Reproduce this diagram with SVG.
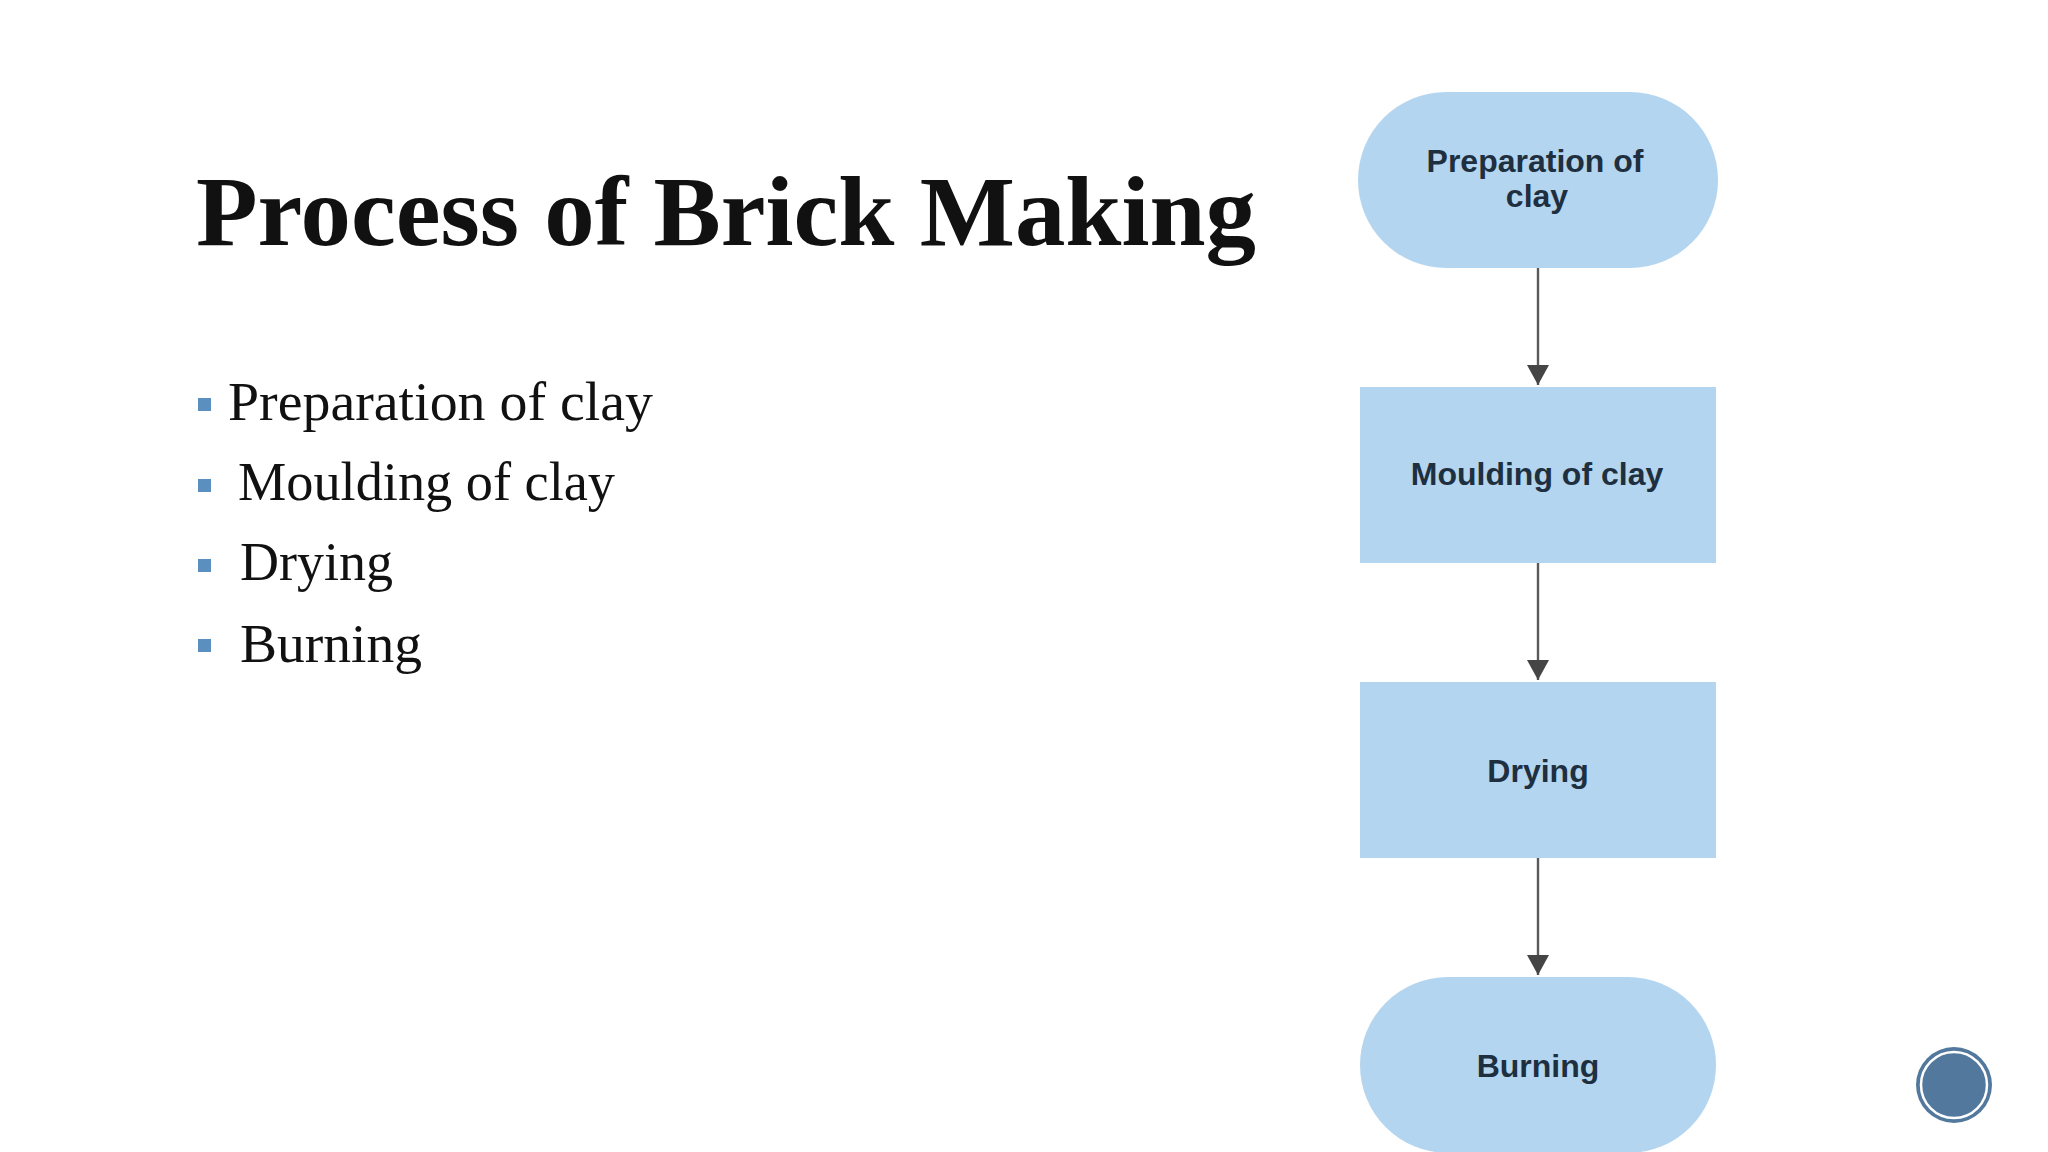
<svg xmlns="http://www.w3.org/2000/svg" width="2048" height="1152" viewBox="0 0 2048 1152">
  <style>
    .node { fill: #b4d5ef; }
    .ntext { font-family: "Liberation Sans", Arial, sans-serif; font-weight: bold; font-size: 32px; fill: #1e2f40; text-anchor: middle; }
    .bullet { fill: #5b8fc0; }
    .btext { font-family: "Liberation Serif", "Times New Roman", serif; font-size: 54px; fill: #111111; }
    .conn { stroke: #5a5a5a; stroke-width: 2.4; fill: none; marker-end: url(#arrow); }
  </style>
  <defs>
    <marker id="arrow" markerWidth="20" markerHeight="22" refX="20" refY="11" orient="auto" markerUnits="userSpaceOnUse" viewBox="0 0 20 22">
      <path d="M0,0 L20,11 L0,22 Z" fill="#454545"/>
    </marker>
  </defs>
  <rect width="2048" height="1152" fill="#ffffff"/>

  <g id="title">
    <text x="196" y="245" font-family="'Liberation Serif', 'Times New Roman', serif" font-weight="bold" font-size="100" fill="#111111" textLength="1060" lengthAdjust="spacingAndGlyphs">Process of Brick Making</text>
  </g>

  <g id="bullets">
    <rect class="bullet" x="198" y="398" width="13" height="13"/>
    <text class="btext" x="228" y="420" textLength="425" lengthAdjust="spacingAndGlyphs">Preparation of clay</text>
    <rect class="bullet" x="198" y="479" width="13" height="13"/>
    <text class="btext" x="238" y="500" textLength="377" lengthAdjust="spacingAndGlyphs">Moulding of clay</text>
    <rect class="bullet" x="198" y="559" width="13" height="13"/>
    <text class="btext" x="240" y="580" textLength="153" lengthAdjust="spacingAndGlyphs">Drying</text>
    <rect class="bullet" x="198" y="639" width="13" height="13"/>
    <text class="btext" x="240" y="662" textLength="182" lengthAdjust="spacingAndGlyphs">Burning</text>
  </g>

  <g id="connectors">
    <line class="conn" x1="1538" y1="268" x2="1538" y2="385"/>
    <line class="conn" x1="1538" y1="563" x2="1538" y2="680"/>
    <line class="conn" x1="1538" y1="858" x2="1538" y2="975"/>
  </g>

  <g id="node-preparation">
    <rect class="node" x="1358" y="92" width="360" height="176" rx="88" ry="88"/>
    <text class="ntext" x="1535" y="172">Preparation of</text>
    <text class="ntext" x="1537" y="207">clay</text>
  </g>

  <g id="node-moulding">
    <rect class="node" x="1360" y="387" width="356" height="176"/>
    <text class="ntext" x="1537" y="485">Moulding of clay</text>
  </g>

  <g id="node-drying">
    <rect class="node" x="1360" y="682" width="356" height="176"/>
    <text class="ntext" x="1538" y="782">Drying</text>
  </g>

  <g id="node-burning">
    <rect class="node" x="1360" y="977" width="356" height="176" rx="88" ry="88"/>
    <text class="ntext" x="1538" y="1077">Burning</text>
  </g>

  <g id="badge">
    <circle cx="1954" cy="1085" r="38" fill="#52799d"/>
    <circle cx="1954" cy="1085" r="33" fill="none" stroke="#ffffff" stroke-width="2.5"/>
  </g>
</svg>
